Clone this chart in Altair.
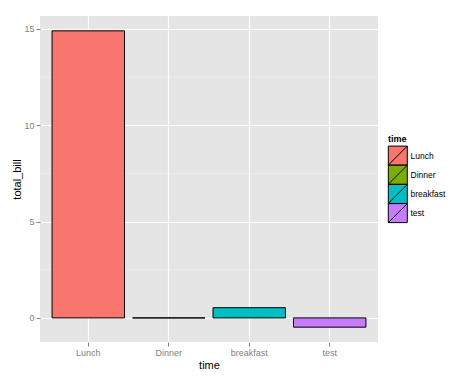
import altair as alt
import pandas as pd

times = ["Lunch", "Dinner", "breakfast", "test"]
total_bill = [14.9, 0.0, 0.53, -0.48]
colors = ["#F8766D", "#7CAE00", "#00BFC4", "#C77CFF"]
y_major = [0, 5, 10, 15]
y_minor = [2.5, 7.5, 12.5]
legend_title = ["time"]

df = pd.DataFrame({"time": times, "total_bill": total_bill})
minor_df = pd.DataFrame({"v": y_minor})
title_df = pd.DataFrame({"t": legend_title})

W, H = 338, 326
ydom = [-1.25, 15.67]
FONT = "Liberation Sans"

yscale = alt.Scale(domain=ydom, nice=False, zero=False)
xscale = alt.Scale(domain=times, paddingInner=0.1, paddingOuter=0.15)
cscale = alt.Scale(domain=times, range=colors)
yaxis = alt.Axis(title="total_bill", values=y_major, grid=True, titlePadding=1)

minor = alt.Chart(minor_df).mark_rule(color="#F2F2F2", strokeWidth=0.6).encode(
    y=alt.Y("v:Q", scale=yscale, axis=yaxis, title="total_bill")
)

bars = alt.Chart(df).mark_bar(stroke="black", strokeWidth=1).encode(
    x=alt.X("time:N", scale=xscale, sort=times,
            axis=alt.Axis(title="time", labelAngle=0, bandPosition=0.5, grid=True,
                          titlePadding=2)),
    y=alt.Y("total_bill:Q", scale=yscale, axis=yaxis, title="total_bill"),
    y2=alt.datum(0),
    color=alt.Color("time:N", sort=times, scale=cscale, legend=None),
)

panel = alt.layer(minor, bars)

# legend (ggplot style keys with diagonal line)
box_path = "M-1,-1H1V1H-1Z M-1,1L1,-1"
lscale = alt.Scale(type="point", domain=times, range=[130, 206.7], padding=0.5)

keys = alt.Chart(df).mark_point(shape=box_path, size=361, filled=True, opacity=1,
                                stroke="black", strokeWidth=1).encode(
    y=alt.Y("time:N", sort=times, scale=lscale, axis=None),
    x=alt.value(357.8),
    color=alt.Color("time:N", sort=times, scale=cscale, legend=None),
)
labels = alt.Chart(df).mark_text(align="left", baseline="middle", font=FONT,
                                 fontSize=8.5, color="black").encode(
    y=alt.Y("time:N", sort=times, scale=lscale, axis=None),
    x=alt.value(370.5),
    text="time:N",
)
ltitle = alt.Chart(title_df).mark_text(align="left", baseline="middle", font=FONT,
                                       fontSize=9, fontWeight="bold", color="black").encode(
    x=alt.value(348),
    y=alt.value(123),
    text="t:N",
)

chart = alt.layer(panel, keys, labels, ltitle).resolve_scale(y="independent").properties(
    width=W, height=H,
    padding={"left": 32, "top": 8, "right": 80, "bottom": 28},
    autosize=alt.AutoSizeParams(type="none"),
).configure_view(fill="#E5E5E5", stroke=None).configure_axis(
    domain=False, tickColor="#7F7F7F", labelColor="#7F7F7F", labelFont=FONT,
    labelFontSize=9, titleFont=FONT, titleFontSize=11, titleFontWeight="normal",
    titleColor="black", gridColor="white", gridWidth=1.2, tickSize=4, labelPadding=2,
)

chart.save("out.html", embed_options={"renderer": "svg", "actions": False})
